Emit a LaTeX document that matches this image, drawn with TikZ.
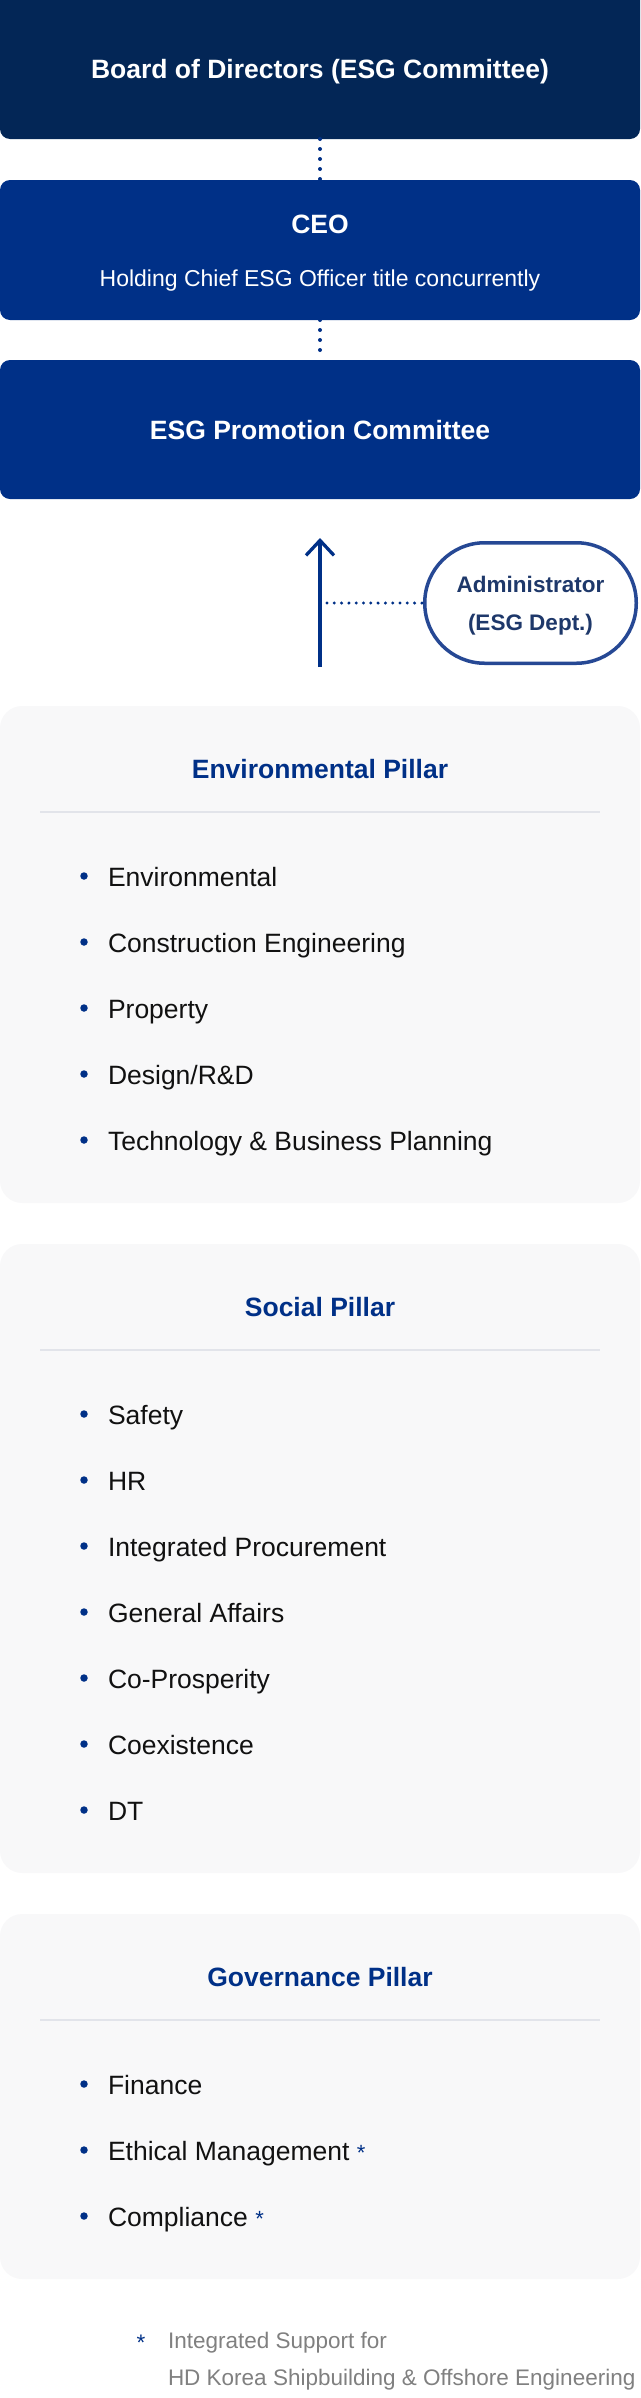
\documentclass[tikz,border=0pt]{standalone}
\usepackage{fontspec}
\setmainfont{Liberation Sans}
\usetikzlibrary{arrows.meta}
\definecolor{bodnavy}{RGB}{3,38,86}
\definecolor{esgblue}{RGB}{0,48,135}
\definecolor{admblue}{RGB}{38,72,148}
\definecolor{admtxt}{RGB}{30,56,106}
\definecolor{pillarbg}{RGB}{248,248,249}
\definecolor{sepgray}{RGB}{226,228,234}
\definecolor{itemblack}{RGB}{17,17,17}
\definecolor{fngray}{RGB}{128,128,128}

\begin{document}
\begin{tikzpicture}[x=1pt,y=-1pt]
\tikzstyle{every node}=[inner sep=0pt, outer sep=0pt]
\tikzstyle{topbox}=[rectangle, rounded corners=10pt, minimum width=640pt]
\tikzstyle{pillar}=[rectangle, rounded corners=22pt, fill=pillarbg, minimum width=640pt]
\tikzstyle{head}=[anchor=base, text=white, font=\fontsize{26.5}{30}\selectfont\bfseries]
\tikzstyle{subhead}=[anchor=base, text=white, font=\fontsize{23}{28}\selectfont]
\tikzstyle{admtext}=[anchor=base, text=admtxt, font=\fontsize{22.5}{27}\selectfont\bfseries]
\tikzstyle{ptitle}=[anchor=base, text=esgblue, font=\fontsize{26.5}{30}\selectfont\bfseries]
\tikzstyle{bullet}=[circle, fill=esgblue, minimum size=7.5pt]
\tikzstyle{itemtext}=[anchor=base west, text=itemblack, font=\fontsize{26.5}{30}\selectfont]
\tikzstyle{fntext}=[anchor=base west, text=fngray, font=\fontsize{22.5}{27}\selectfont]
\tikzstyle{fnstar}=[anchor=base, text=esgblue, font=\fontsize{22.5}{27}\selectfont]
\tikzstyle{vdots}=[esgblue, line width=4pt, line cap=round, dash pattern=on 0pt off 10pt]
\tikzstyle{hdots}=[esgblue, line width=3.3pt, line cap=round, dash pattern=on 0pt off 7.3pt]
\tikzstyle{sepline}=[sepgray, line width=1.5pt]
\useasboundingbox (0,0) rectangle (640,2398);

% governance chain
\draw (320,64.5) node (bod) [topbox, fill=bodnavy, minimum height=149pt] {};
\draw (320,250) node (ceo) [topbox, fill=esgblue, minimum height=140pt] {};
\draw (320,429.5) node (epc) [topbox, fill=esgblue, minimum height=139pt] {};
\draw (320,78.5) node (bodt) [head] {Board of Directors (ESG Committee)};
\draw (320,233) node (ceot) [head] {CEO};
\draw (320,286.5) node (ceos) [subhead] {Holding Chief ESG Officer title concurrently};
\draw (320,439) node (epct) [head] {ESG Promotion Committee};
\draw[vdots] (bod.south) -- (ceo.north);
\draw[vdots] (ceo.south) -- (epc.north);

% administrator
\coordinate (afoot) at (320,667);
\coordinate (atip) at (320,538);
\coordinate (aline) at (327,603);
\draw[esgblue, line width=3.3pt, -{Straight Barb[length=15pt,width=28pt]}] (afoot) -- (atip);
\draw (530.5,603) node (adm) [draw=admblue, line width=3.5pt, fill=white, rounded corners=60pt, minimum width=211.5pt, minimum height=120.5pt] {};
\draw (530.5,592) node (adm1) [admtext] {Administrator};
\draw (530.5,630) node (adm2) [admtext] {(ESG Dept.)};
\draw[hdots] (aline) -- (adm.west);

% environmental
\draw (320,954.5) node (env) [pillar, minimum height=497pt] {};
\draw (320,778) node (envt) [ptitle] {Environmental Pillar};
\draw[sepline] (40,812) -- (600,812);
\draw (84,876) node (e1d) [bullet] {} (108,886) node (e1) [itemtext] {Environmental};
\draw (84,942) node (e2d) [bullet] {} (108,952) node (e2) [itemtext] {Construction Engineering};
\draw (84,1008) node (e3d) [bullet] {} (108,1018) node (e3) [itemtext] {Property};
\draw (84,1074) node (e4d) [bullet] {} (108,1084) node (e4) [itemtext] {Design/R\&D};
\draw (84,1140) node (e5d) [bullet] {} (108,1150) node (e5) [itemtext] {Technology \& Business Planning};

% social
\draw (320,1558.5) node (soc) [pillar, minimum height=629pt] {};
\draw (320,1316) node (soct) [ptitle] {Social Pillar};
\draw[sepline] (40,1350) -- (600,1350);
\draw (84,1414) node (s1d) [bullet] {} (108,1424) node (s1) [itemtext] {Safety};
\draw (84,1480) node (s2d) [bullet] {} (108,1490) node (s2) [itemtext] {HR};
\draw (84,1546) node (s3d) [bullet] {} (108,1556) node (s3) [itemtext] {Integrated Procurement};
\draw (84,1612) node (s4d) [bullet] {} (108,1622) node (s4) [itemtext] {General Affairs};
\draw (84,1678) node (s5d) [bullet] {} (108,1688) node (s5) [itemtext] {Co-Prosperity};
\draw (84,1744) node (s6d) [bullet] {} (108,1754) node (s6) [itemtext] {Coexistence};
\draw (84,1810) node (s7d) [bullet] {} (108,1820) node (s7) [itemtext] {DT};

% governance
\draw (320,2096.5) node (gov) [pillar, minimum height=365pt] {};
\draw (320,1986) node (govt) [ptitle] {Governance Pillar};
\draw[sepline] (40,2020) -- (600,2020);
\draw (84,2084) node (g1d) [bullet] {} (108,2094) node (g1) [itemtext] {Finance};
\draw (84,2150) node (g2d) [bullet] {} (108,2160) node (g2) [itemtext] {Ethical Management \textcolor{esgblue}{\fontsize{22}{22}\selectfont *}};
\draw (84,2216) node (g3d) [bullet] {} (108,2226) node (g3) [itemtext] {Compliance \textcolor{esgblue}{\fontsize{22}{22}\selectfont *}};

% footnote
\draw (141,2350) node (fns) [fnstar] {*};
\draw (168,2348) node (fn1) [fntext] {Integrated Support for};
\draw (168,2385) node (fn2) [fntext] {HD Korea Shipbuilding \& Offshore Engineering};
\end{tikzpicture}
\end{document}
